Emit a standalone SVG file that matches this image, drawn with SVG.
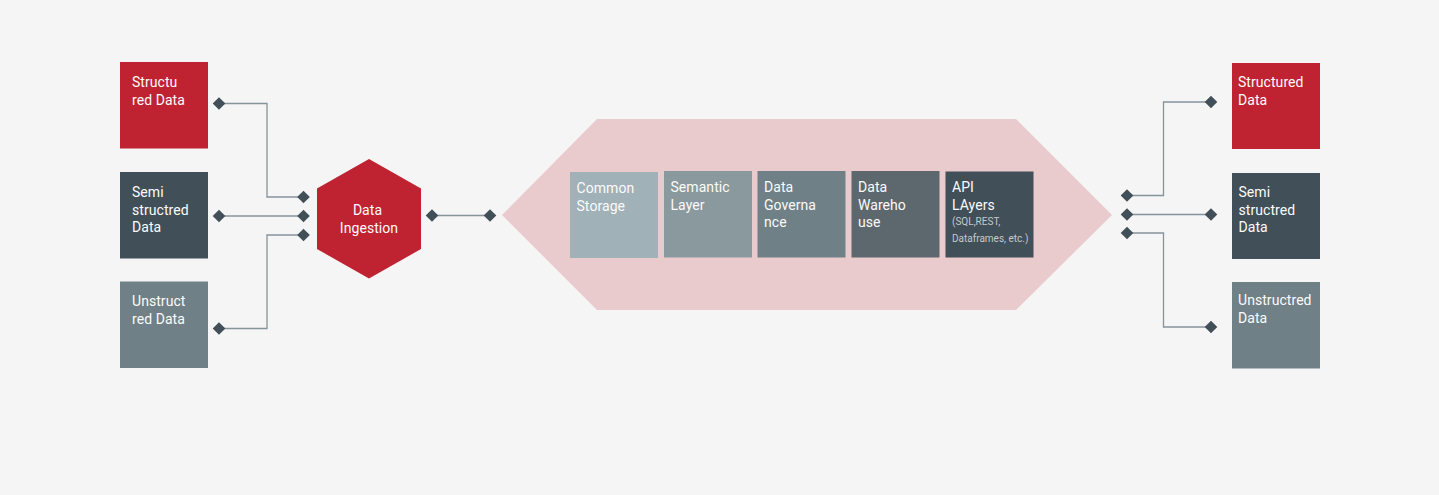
<svg xmlns="http://www.w3.org/2000/svg" width="1439" height="495" viewBox="0 0 1439 495">
<style>
text{font-family:Roboto,"Liberation Sans",sans-serif;font-size:14px;fill:#fbfbfb;font-weight:400;letter-spacing:.06px}
.sm{font-size:10px;fill:#c3cacd;letter-spacing:0}
.c{text-anchor:middle}
.red{fill:#bf2231}.dark{fill:#414f58}.mid{fill:#6f8087}
.ln{fill:none;stroke:#85939a;stroke-width:1.3}
.d{fill:#414f58}
</style>
<defs><path id="dm" d="M0-6.300L6.300 0L0 6.300L-6.300 0Z"/></defs>
<rect width="1439" height="495" fill="#f5f5f5"/>
<g id="connectors">
<path class="ln" d="M219 103.500H267V197H303.500"/>
<path class="ln" d="M219 216H303.500"/>
<path class="ln" d="M219 328.500H267V235H303.500"/>
<path class="ln" d="M432 215.500H490"/>
<path class="ln" d="M1127 195.500H1163.500V102H1211"/>
<path class="ln" d="M1127 214.500H1211"/>
<path class="ln" d="M1127 233H1163.500V327H1211"/>
<g class="d">
<use href="#dm" x="219" y="103.500"/><use href="#dm" x="219" y="216"/><use href="#dm" x="219" y="328.500"/>
<use href="#dm" x="303.500" y="197"/><use href="#dm" x="303.500" y="216"/><use href="#dm" x="303.500" y="235"/>
<use href="#dm" x="432" y="215.500"/><use href="#dm" x="490" y="215.500"/>
<use href="#dm" x="1127" y="195.500"/><use href="#dm" x="1127" y="214.500"/><use href="#dm" x="1127" y="233"/>
<use href="#dm" x="1211" y="102"/><use href="#dm" x="1211" y="214.500"/><use href="#dm" x="1211" y="327"/>
</g>
</g>
<g id="src-structured"><rect class="red" x="120" y="62" width="88" height="86.500"/><text x="132" y="87">Structu</text><text x="132" y="104.500">red Data</text></g>
<g id="src-semi"><rect class="dark" x="120" y="172" width="88" height="86.500"/><text x="132" y="196.500">Semi</text><text x="132" y="214.500">structred</text><text x="132" y="231.500">Data</text></g>
<g id="src-unstructured"><rect class="mid" x="120" y="281.500" width="88" height="86.500"/><text x="132" y="306">Unstruct</text><text x="132" y="324">red Data</text></g>
<g id="ingestion"><polygon class="red" points="369,159 421,188.500 421,249 369,278.500 317,249 317,188.500"/><text class="c" x="367.500" y="214.500">Data</text><text class="c" x="369" y="232.500">Ingestion</text></g>
<g id="platform"><polygon fill="#eacbcd" points="502,215 597,119 1016,119 1112,215 1016,310 597,310"/></g>
<g id="common-storage"><rect fill="#a0b1b8" x="570" y="172" width="88" height="86"/><text x="576.500" y="192.500">Common</text><text x="576.500" y="210.500">Storage</text></g>
<g id="semantic-layer"><rect fill="#89999d" x="664" y="171" width="88" height="86.500"/><text x="670.500" y="191.500">Semantic</text><text x="670.500" y="209.500">Layer</text></g>
<g id="data-governance"><rect class="mid" x="757.500" y="171" width="88" height="86.500"/><text x="764" y="191.500">Data</text><text x="764" y="209.500">Governa</text><text x="764" y="226.500">nce</text></g>
<g id="data-warehouse"><rect fill="#5d686e" x="851.500" y="171" width="88" height="86.500"/><text x="858" y="191.500">Data</text><text x="858" y="209.500">Wareho</text><text x="858" y="226.500">use</text></g>
<g id="api-layers"><rect class="dark" x="945.500" y="171.500" width="88" height="86"/><text x="952" y="191.500">API</text><text x="952" y="209.500">LAyers</text><text class="sm" x="952" y="225">(SQL,REST,</text><text class="sm" x="952" y="242">Dataframes, etc.)</text></g>
<g id="dst-structured"><rect class="red" x="1232" y="63" width="88" height="86"/><text x="1238" y="87">Structured</text><text x="1238" y="105">Data</text></g>
<g id="dst-semi"><rect class="dark" x="1232" y="173" width="88" height="86"/><text x="1238.500" y="197">Semi</text><text x="1238.500" y="215">structred</text><text x="1238.500" y="232">Data</text></g>
<g id="dst-unstructured"><rect class="mid" x="1232" y="282" width="88" height="86.500"/><text x="1238" y="305">Unstructred</text><text x="1238" y="323">Data</text></g>
</svg>
